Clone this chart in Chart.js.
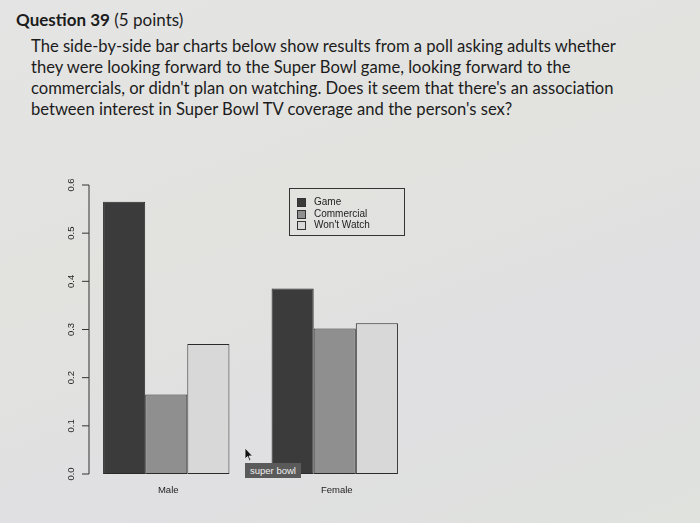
<!DOCTYPE html>
<html>
<head>
<meta charset="utf-8">
<script src="https://cdn.jsdelivr.net/npm/chart.js@4.4.1/dist/chart.umd.min.js"></script>
<style>
  html, body { margin: 0; padding: 0; }
  body {
    width: 700px; height: 523px; overflow: hidden; position: relative;
    background: linear-gradient(160deg, #e4e4e4 0%, #e2e3df 40%, #e0dfe2 70%, #dfe2dd 100%);
    font-family: Lato, "Open Sans", sans-serif; color: #1c1c1c;
  }
  #title { position: absolute; left: 16px; top: 9px; font-size: 17px; }
  #title b { font-weight: 700; }
  #question { position: absolute; left: 31px; top: 36px; font-size: 16.6px; line-height: 21px; margin: 0; }
  #wrap { position: absolute; left: 0; top: 0; width: 700px; height: 523px; }
  #legend {
    position: absolute; left: 289px; top: 188px; width: 116px; height: 48px;
    border: 1px solid #333; font-family: "Liberation Sans", Arial, sans-serif;
    font-size: 10px; color: #222; padding-top: 7px; box-sizing: border-box;
  }
  #legend div { height: 11.5px; line-height: 11.5px; position: relative; padding-left: 24px; }
  #legend span {
    position: absolute; left: 7px; top: 2px; width: 7px; height: 7px; border: 1px solid #333;
  }
  #tip {
    position: absolute; left: 245px; top: 463px; height: 15px; line-height: 15px;
    padding: 0 5px; background: #5a5a5a; color: #eee;
    font-family: "Liberation Sans", Arial, sans-serif; font-size: 9.5px;
  }
  #cursor { position: absolute; left: 244px; top: 447px; }
</style>
</head>
<body>
<div id="title"><b>Question 39</b> (5 points)</div>
<p id="question">The side-by-side bar charts below show results from a poll asking adults whether<br>
they were looking forward to the Super Bowl game, looking forward to the<br>
commercials, or didn't plan on watching. Does it seem that there's an association<br>
between interest in Super Bowl TV coverage and the person's sex?</p>

<div id="wrap"><canvas id="barChart" width="700" height="523"></canvas></div>
<div id="legend"></div>
<div id="tip">super bowl</div>
<svg id="cursor" width="10" height="15" viewBox="0 0 10 15">
  <path d="M1 1 L1 12 L3.5 9.5 L5.5 14 L7 13.3 L5 9 L8.5 9 Z" fill="#111" stroke="#eee" stroke-width="0.8"/>
</svg>

<script>
  // categories and series
  const groups = ['Male', 'Female'];
  const seriesNames = ['Game', 'Commercial', "Won't Watch"];
  const gameVals = [0.565, 0.385];
  const commercialVals = [0.165, 0.302];
  const wontWatchVals = [0.27, 0.313];
  const yTickValues = [0, 0.1, 0.2, 0.3, 0.4, 0.5, 0.6];
  const yTickLabels = ['0.0', '0.1', '0.2', '0.3', '0.4', '0.5', '0.6'];

  const fills = ['#3b3b3b', '#8f8f8f', '#d8d8d8'];
  const edge = '#2a2a2a';
  const rFont = "'Liberation Sans', Arial, sans-serif";

  // R style axes: short y line from 0 to 0.6 with rotated labels, group names under bars
  const rAxis = {
    id: 'rAxis',
    afterDraw(chart) {
      const ctx = chart.ctx;
      const y = chart.scales.y;
      const x = chart.scales.x;
      const x0 = chart.chartArea.left + 7;
      ctx.save();
      ctx.strokeStyle = '#333';
      ctx.lineWidth = 1;
      ctx.beginPath();
      ctx.moveTo(x0, y.getPixelForValue(yTickValues[0]));
      ctx.lineTo(x0, y.getPixelForValue(yTickValues[yTickValues.length - 1]));
      yTickValues.forEach(function(v) {
        const py = y.getPixelForValue(v);
        ctx.moveTo(x0, py);
        ctx.lineTo(x0 - 7, py);
      });
      ctx.stroke();
      ctx.fillStyle = '#222';
      ctx.font = '9.5px ' + rFont;
      ctx.textAlign = 'center';
      ctx.textBaseline = 'middle';
      yTickValues.forEach(function(v, i) {
        ctx.save();
        ctx.translate(x0 - 18, y.getPixelForValue(v));
        ctx.rotate(-Math.PI / 2);
        ctx.fillText(yTickLabels[i], 0, 0);
        ctx.restore();
      });
      const by = y.getPixelForValue(0);
      groups.forEach(function(g, i) {
        ctx.fillText(g, x.getPixelForValue(i) + 2, by + 16);
      });
      ctx.restore();
    }
  };

  const values = [gameVals, commercialVals, wontWatchVals];
  const chart = new Chart(document.getElementById('barChart'), {
    type: 'bar',
    data: {
      labels: groups,
      datasets: seriesNames.map(function(name, i) {
        return {
          label: name,
          data: values[i],
          backgroundColor: fills[i],
          borderColor: edge,
          borderWidth: 1,
          borderSkipped: false,
          categoryPercentage: 0.75,
          barPercentage: 1
        };
      })
    },
    options: {
      responsive: false,
      animation: false,
      layout: { padding: { left: 82, right: 281, top: 185, bottom: 49 } },
      plugins: {
        legend: { display: false },
        tooltip: { enabled: false }
      },
      scales: {
        y: { display: false, min: 0, max: 0.6 },
        x: { display: false }
      }
    },
    plugins: [rAxis]
  });

  // legend box in the plot, like R's legend()
  const legendBox = document.getElementById('legend');
  chart.data.datasets.forEach(function(ds) {
    const row = document.createElement('div');
    const sw = document.createElement('span');
    sw.style.background = ds.backgroundColor;
    row.appendChild(sw);
    row.appendChild(document.createTextNode(ds.label));
    legendBox.appendChild(row);
  });
</script>
</body>
</html>
